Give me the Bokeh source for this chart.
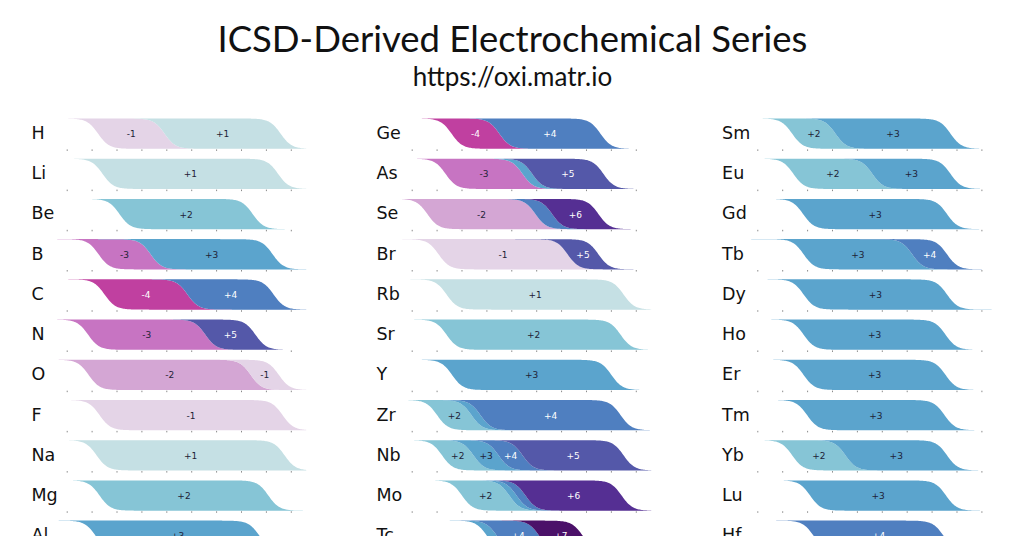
import numpy as np
from bokeh.plotting import figure
from bokeh.models import Range1d, Label, ColumnDataSource
from bokeh.core.properties import value
from bokeh.embed import file_html
from bokeh.resources import INLINE

# ---------------- data ----------------
TITLE = "ICSD-Derived Electrochemical Series"
SUBTITLE = "https://oxi.matr.io"

TICKS = [0, 1, 2, 3, 4, 5, 6, 7, 8, 9]

COL1_ELEMENTS = ["H", "Li", "Be", "B", "C", "N", "O", "F", "Na", "Mg", "Al"]
COL1_STATES = [[-1, 1], [1], [2], [-3, 3], [-4, 4], [-3, 5], [-2, -1], [-1], [1], [2], [3]]
COL1_BOUNDS = [[1.24, 3.91, 8.57], [1.42, 8.47], [2.1, 7.45], [1.26, 3.35, 8.25],
               [1.5, 4.83, 8.29], [0.84, 5.55, 7.56], [0.86, 7.37, 8.5], [1.3, 8.65],
               [1.18, 8.73], [1.3, 8.08], [1.14, 7.72]]

COL2_ELEMENTS = ["Ge", "As", "Se", "Br", "Rb", "Sr", "Y", "Zr", "Nb", "Mo", "Tc"]
COL2_STATES = [[-4, 4], [-3, 3, 5], [-2, 4, 6], [-1, 5], [1], [2], [3], [2, 3, 4],
               [2, 3, 4, 5], [2, 3, 4, 6], [3, 4, 7]]
COL2_BOUNDS = [[1.58, 3.5, 7.56], [1.34, 4.43, 4.82, 7.68], [0.61, 4.95, 5.62, 7.48],
               [1.06, 6.24, 7.48], [1.38, 8.49], [1.38, 8.37], [1.6, 8.0],
               [1.0, 2.38, 2.74, 8.37], [1.2, 2.46, 3.47, 4.43, 8.49],
               [2.0, 3.9, 4.19, 4.55, 8.41], [3.0, 3.4, 5.1, 6.85]]

COL3_ELEMENTS = ["Sm", "Eu", "Gd", "Tb", "Dy", "Ho", "Er", "Tm", "Yb", "Lu", "Hf"]
COL3_STATES = [[2, 3], [2, 3], [3], [3, 4], [3], [3], [3], [3], [2, 3], [3], [4]]
COL3_BOUNDS = [[1.38, 3.12, 7.74], [1.43, 4.6, 7.74], [1.82, 7.6], [1.84, 6.2, 7.6],
               [1.84, 7.6], [1.84, 7.54], [1.84, 7.54], [1.98, 7.5], [1.38, 3.52, 7.6],
               [2.1, 7.56], [2.24, 7.46]]

STATE_COLORS = {-4: "#c040a0", -3: "#c774c2", -2: "#d4a6d4", -1: "#e4d4e7",
                1: "#c5e0e4", 2: "#86c5d6", 3: "#5ba4cd", 4: "#4f7fc0",
                5: "#5458a9", 6: "#552f93", 7: "#4b1169"}
LIGHT_TEXT_STATES = [-4, 4, 5, 6, 7]

# ---------------- layout ----------------
COL_OFFSETS = [0.0, 13.855, 27.735]
ROW_STEP = 1.327
S = 0.22
MIN_LABEL_WIDTH = 0.8

p = figure(width=1024, height=536, output_backend="svg", toolbar_location=None,
           x_range=Range1d(-2.679, 38.446), y_range=Range1d(-12.795, 4.894),
           x_axis_type=None, y_axis_type=None, min_border=0,
           outline_line_color=None, background_fill_color="white",
           border_fill_color="white")
p.grid.visible = False


def curve(xs, c):
    return 1.0 / (1.0 + np.exp((xs - c) / S))


xs_u = np.linspace(-0.4, 9.6, 260)
poly = dict(xs=[], ys=[], color=[])
lab = dict(x=[], y=[], text=[], color=[])
el = dict(x=[], y=[], text=[])
tk = dict(x0=[], y0=[], x1=[], y1=[])

columns = [(COL1_ELEMENTS, COL1_STATES, COL1_BOUNDS),
           (COL2_ELEMENTS, COL2_STATES, COL2_BOUNDS),
           (COL3_ELEMENTS, COL3_STATES, COL3_BOUNDS)]

for off, (elements, states, bounds) in zip(COL_OFFSETS, columns):
    for k, (name, st, bd) in enumerate(zip(elements, states, bounds)):
        base = -k * ROW_STEP
        for i, s in enumerate(st):
            lower = curve(xs_u, bd[i])
            upper = curve(xs_u, bd[i + 1])
            poly["xs"].append(list(np.concatenate([xs_u, xs_u[::-1]]) + off))
            poly["ys"].append(list(base + np.concatenate([lower, upper[::-1]])))
            poly["color"].append(STATE_COLORS[s])
            if bd[i + 1] - bd[i] >= MIN_LABEL_WIDTH:
                lab["x"].append(off + (bd[i] + bd[i + 1]) / 2)
                lab["y"].append(base + 0.5)
                lab["text"].append(f"{s:+d}")
                lab["color"].append("white" if s in LIGHT_TEXT_STATES else "#1e2236")
        el["x"].append(off - 1.434)
        el["y"].append(base + 0.52)
        el["text"].append(name)
        for t in TICKS:
            tk["x0"].append(off + t)
            tk["x1"].append(off + t)
            tk["y0"].append(base - 0.02)
            tk["y1"].append(base - 0.07)

p.patches("xs", "ys", source=ColumnDataSource(poly), fill_color="color",
          line_color=None)
p.segment("x0", "y0", "x1", "y1", source=ColumnDataSource(tk), line_color="#8a8a8a",
          line_width=1)
p.text("x", "y", text="text", source=ColumnDataSource(lab), text_color="color",
       text_font=value("DejaVu Sans"), text_font_size="9px",
       text_align="center", text_baseline="middle")
p.text("x", "y", text="text", source=ColumnDataSource(el), text_color="#111111",
       text_font=value("DejaVu Sans"), text_font_size="17.5px",
       text_align="left", text_baseline="middle")

p.add_layout(Label(x=17.88, y=3.64, text=TITLE, text_align="center",
                   text_baseline="middle", text_font="Lato",
                   text_font_size="36.5px", text_color="#111111"))
p.add_layout(Label(x=17.88, y=2.39, text=SUBTITLE, text_align="center",
                   text_baseline="middle", text_font="Lato",
                   text_font_size="26px", text_color="#111111"))

open("out.html", "w").write(file_html(p, INLINE))
